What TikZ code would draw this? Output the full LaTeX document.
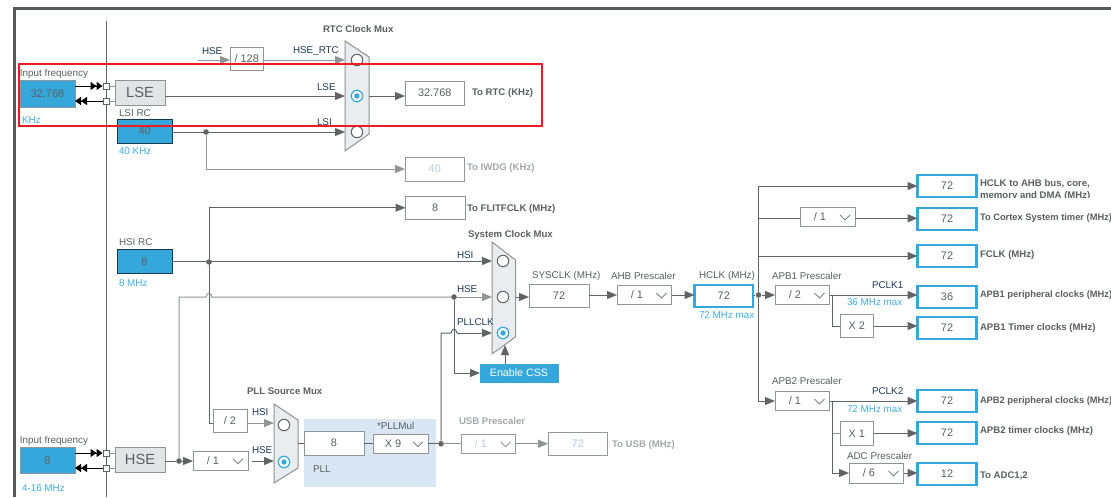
\documentclass[tikz,border=0pt]{standalone}
\usepackage{fontspec}
\setmainfont{Liberation Sans}
\usetikzlibrary{arrows.meta}
\definecolor{ln}{HTML}{5F6466}
\definecolor{lnlight}{HTML}{8F9496}
\definecolor{txt}{HTML}{5A5F62}
\definecolor{bdr}{HTML}{8F9496}
\definecolor{bluef}{HTML}{36A7DB}
\definecolor{bluet}{HTML}{45ADE2}
\definecolor{muxf}{HTML}{E9EDF0}
\definecolor{greyf}{HTML}{E2E4E6}
\definecolor{pllf}{HTML}{D9E7F5}
\definecolor{dim}{HTML}{A3A8AB}
\definecolor{dimv}{HTML}{B4CBE4}
\definecolor{navy}{HTML}{1F3A5A}
\definecolor{redb}{HTML}{ED1C24}
\tikzset{
  box/.style={draw=bdr,fill=white,line width=.75pt,inner sep=0pt,outer sep=0pt,text=txt,font=\fontsize{8.2pt}{10pt}\selectfont},
  dimbox/.style={box,draw=dim!90!black,text=dimv},
  outbox/.style={box,draw=bluef,line width=1.7pt},
  hclkbox/.style={outbox},
  src/.style={box,draw=bdr,fill=bluef},
  rc/.style={box,draw=black!65!bluef,fill=bluef},
  xtal/.style={box,fill=greyf,font=\fontsize{11pt}{12pt}\selectfont},
  lab/.style={inner sep=0pt,outer sep=0pt,anchor=west,yshift=-.75pt,text=txt,font=\fontsize{7.4pt}{9pt}\selectfont},
  bold/.style={lab,font=\fontsize{7.2pt}{9pt}\bfseries\selectfont},
  boldn/.style={lab,font=\fontsize{7pt}{9pt}\bfseries\selectfont},
  dimlab/.style={bold,text=dim},
  sig/.style={lab,text=navy},
  info/.style={lab,text=bluet},
  wire/.style={draw=ln,line width=.75pt},
  arr/.style={wire,-{Triangle[length=7.5pt,width=6pt]}},
  dimarr/.style={arr,draw=lnlight},
  blk/.style={draw=black,line width=.75pt,-{Triangle[length=4.5pt,width=6pt]Triangle[length=4.5pt,width=6pt]}},
  dot/.style={circle,fill=ln,inner sep=0pt,minimum size=4.2pt},
  port/.style={draw=ln,fill=white,line width=.6pt,inner sep=0pt,minimum size=4.6pt},
  mux/.style={draw=bdr,fill=muxf,line width=.75pt},
  radio/.style={circle,draw=ln,fill=white,line width=.75pt,inner sep=0pt,minimum size=8.6pt},
  radiosel/.style={radio,draw=bluef,line width=.9pt},
  seldot/.style={circle,fill=bluef,inner sep=0pt,minimum size=4pt},
  chev/.style={draw=ln!80,line width=.6pt}
}
\newcommand{\mkbox}[7][]{%
  \pgfmathsetmacro{\cxx}{(#3+#5)/2}\pgfmathsetmacro{\cyy}{(#4+#6)/2}%
  \pgfmathsetmacro{\bww}{(#5-#3)*.75}\pgfmathsetmacro{\bhh}{(#6-#4)*.75}%
  \node[box,#1,minimum width=\bww pt,minimum height=\bhh pt] (#2) at (\cxx,\cyy) {#7};}
\newcommand{\mkdrop}[7][]{%
  \mkbox[#1]{#2}{#3}{#4}{#5}{#6}{}%
  \pgfmathsetmacro{\txx}{#3+20}\pgfmathsetmacro{\cyy}{(#4+#6)/2}%
  \pgfmathsetmacro{\cha}{#5-15}\pgfmathsetmacro{\chb}{#5-10}\pgfmathsetmacro{\chc}{#5-5}%
  \pgfmathsetmacro{\chy}{\cyy-2}\pgfmathsetmacro{\chz}{\cyy+3}%
  \node[box,#1,draw=none,fill=none] (#2-t) at (\txx,\cyy) {#7};%
  \draw[chev,#1,fill=none] (\cha,\chy) -- (\chb,\chz) -- (\chc,\chy);}
\newcommand{\lbl}[5][lab]{\node[#1] (#2) at (#3,#4) {#5};}
\newcommand{\radio}[5][radio]{\node[#1] (#2) at (#3,#4) {};}
\begin{document}
\begin{tikzpicture}[x=.75pt,y=-.75pt]
\useasboundingbox (0,0) rectangle (1111,497);
\fill[white] (0,0) rectangle (1111,497);
% frame and rail
\coordinate (fa) at (14.7,497); \coordinate (fb) at (14.7,8.7); \coordinate (fc) at (1111,8.7);
\draw[draw=ln!90!black,line width=2pt] (fa) -- (fb) -- (fc);
\coordinate (ra) at (106,21); \coordinate (rb) at (106,497);
\draw[draw=ln,line width=.75pt] (ra) -- (rb);
% PLL background
\fill[pllf] (304,419) rectangle (435.5,487);
% muxes
\draw[mux] (345,41) -- (369,57) -- (369,134) -- (345,151) -- cycle;
\draw[mux] (492,242) -- (515.5,260) -- (515.5,337) -- (492,354) -- cycle;
\draw[mux] (274,404) -- (298,420) -- (298,468) -- (274,483) -- cycle;
\coordinate (rtcL) at (345,96); \coordinate (rtcR) at (369,96);
\coordinate (sysL) at (492,297); \coordinate (sysR) at (515.5,297); \coordinate (sysB) at (505,345);
\coordinate (pllL) at (274,440); \coordinate (pllR) at (298,443);
\radio{r1}{357}{60}{} \radio[radiosel]{r2}{357}{96}{} \node[seldot] (r2d) at (357,96) {}; \radio{r3}{357}{132}{}
\radio{s1}{503}{261}{} \radio{s2}{503}{297}{} \radio[radiosel]{s3}{503}{333}{} \node[seldot] (s3d) at (503,333) {};
\radio{p1}{284}{425}{} \radio[radiosel]{p2}{284}{462}{} \node[seldot] (p2d) at (284,462) {};
% sources
\mkbox[src]{lsein}{20}{80}{75}{107}{32.768}
\mkbox[xtal]{lse}{115}{80}{165}{105}{LSE}
\mkbox[rc]{lsi}{117.5}{119}{172}{143}{40}
\mkbox[rc]{hsi}{117}{249.5}{172}{273}{8}
\mkbox[src]{hsein}{20}{447}{75}{473.5}{8}
\mkbox[xtal]{hse}{115}{447}{165}{472}{HSE}
\node[port] (pa) at (106,86) {}; \node[port] (pb) at (106,101) {};
\node[port] (pc) at (106,453) {}; \node[port] (pd) at (106,468) {};
% boxes
\mkbox{d128}{230}{47}{263.5}{70}{/ 128}
\mkbox{rtc}{405}{81}{464.5}{105}{32.768}
\mkbox[dimbox]{iwdg}{405}{157}{464.5}{181}{40}
\mkbox{flit}{405.5}{196}{465}{219.5}{8}
\mkbox{d2}{213}{409}{247}{432}{/ 2}
\mkdrop{d1}{193}{451.5}{248}{470}{/ 1}
\mkbox{pll}{304}{431}{364}{455}{8}
\mkdrop{mul}{373}{434.5}{428}{453}{X 9}
\mkdrop[dimbox]{usbp}{461}{434.5}{515.5}{453}{/ 1}
\mkbox[dimbox]{usb}{548}{432}{607.5}{455}{72}
\mkbox{sys}{529}{284.5}{589}{307.5}{72}
\mkdrop{ahb}{617}{285.5}{671.5}{304.5}{/ 1}
\mkbox[hclkbox]{hclk}{694.5}{285}{753}{307}{72}
\mkdrop{apb1}{775}{285.5}{829.5}{304.5}{/ 2}
\mkdrop{apb2}{775}{391.5}{829.5}{410.5}{/ 1}
\mkdrop{cort}{800}{207.5}{855}{226.5}{/ 1}
\mkbox{x2}{840}{314.5}{873.5}{337.5}{X 2}
\mkbox{x1}{840}{421.5}{873.5}{445}{X 1}
\mkdrop{adc}{849}{463}{903.5}{483}{/ 6}
\mkbox[outbox]{o1}{917.5}{175}{976.5}{197}{72}
\mkbox[outbox]{o2}{917.5}{208}{976.5}{230}{72}
\mkbox[outbox]{o3}{917.5}{245}{976.5}{267}{72}
\mkbox[outbox]{o4}{917.5}{286}{976.5}{308}{36}
\mkbox[outbox]{o5}{917.5}{317}{976.5}{339}{72}
\mkbox[outbox]{o6}{917.5}{390}{976.5}{412}{72}
\mkbox[outbox]{o7}{917.5}{422}{976.5}{444}{72}
\mkbox[outbox]{o8}{917.5}{463}{976.5}{485}{12}
\mkbox[fill=bluef,draw=bluef,text=white]{css}{480}{364}{558}{382}{\fontsize{8pt}{9pt}\selectfont Enable CSS}
% input arrows
\draw[blk] (lsein.east |- pa) -- (pa);
\draw[blk] (pb) -- (lsein.east |- pb);
\draw[blk] (hsein.east |- pc) -- (pc);
\draw[blk] (pd) -- (hsein.east |- pd);
\draw[wire,draw=lnlight] (pa) -- (lse.west |- pa);
\draw[wire,draw=lnlight] (pb) -- (lse.west |- pb);
\draw[wire,draw=lnlight] (pc) -- (hse.west |- pc);
\draw[wire,draw=lnlight] (pd) -- (hse.west |- pd);
% RTC
\coordinate (hsefree) at (198,60);
\draw[dimarr] (hsefree) -- (d128.west |- hsefree);
\draw[dimarr] (d128.east |- r1) -- (rtcL |- r1);
\draw[arr] (lse.east |- r2) -- (rtcL |- r2);
\draw[arr] (lsi.east |- r3) -- (rtcL |- r3);
\draw[arr] (rtcR) -- (rtc.west |- rtcR);
\node[dot] (lsidot) at (206,132) {};
\draw[dimarr] (lsidot) |- (iwdg.west);
% HSI / HSE trees
\node[dot] (hsidot) at (209,262) {};
\draw[arr] (hsi.east |- s1) -- (sysL |- s1);
\draw[arr] (hsidot) |- (flit.west);
\coordinate (tod2) at (213,423);
\draw[wire] (hsidot) |- (tod2);
\coordinate (d2out) at (247,423);
\draw[dimarr] (d2out) -- (pllL |- d2out);
\node[dot] (hsedot) at (179,461) {};
\node[dot] (hsedot2) at (454,297) {};
\draw[wire] (hse.east |- hsedot) -- (hsedot);
\draw[arr] (hsedot) -- (d1.west |- hsedot);
\coordinate (jump1) at (206,297); \coordinate (jump2) at (212,297);
\draw[wire,draw=lnlight] (hsedot) |- (jump1) .. controls (207,292) and (211,292) .. (jump2) -- (hsedot2);
\draw[dimarr] (hsedot2) -- (sysL |- s2);
\draw[arr] (hsedot2) |- (css.west);
\coordinate (d1out) at (252,461);
\draw[arr] (d1out) -- (pllL |- d1out);
\draw[wire] (pllR) -- (pll.west |- pllR);
\draw[wire] (pll.east |- mul.west) -- (mul.west);
\node[dot] (plldot) at (441,443.75) {};
\draw[wire] (mul.east) -- (plldot);
\coordinate (jump3) at (451,333); \coordinate (jump4) at (457,333);
\draw[wire] (plldot) |- (jump3) .. controls (452,328) and (456,328) .. (jump4);
\draw[arr] (jump4) -- (sysL |- s3);
\draw[wire,draw=lnlight] (plldot) -- (usbp.west);
\draw[dimarr] (usbp.east) -- (usb.west |- usbp.east);
\draw[arr] (css.north -| sysB) -- (sysB);
% main chain
\draw[arr] (sysR) -- (sys.west |- sysR);
\draw[arr] (sys.east |- ahb.west) -- (ahb.west);
\draw[arr] (ahb.east) -- (hclk.west |- ahb.east);
\node[dot] (hdot) at (758.5,295) {};
\draw[wire] (hclk.east |- hdot) -- (hdot);
\draw[arr] (hdot) -- (apb1.west);
\coordinate (cy) at (800,218.3);
\draw[wire] (hdot) |- (cy);
\draw[arr] (hdot) |- (o1.west);
\draw[arr] (hdot) |- (o3.west);
\draw[arr] (hdot) |- (apb2.west);
\draw[arr] (cort.east |- cy) -- (o2.west |- cy);
\coordinate (j1) at (832,295.5);
\coordinate (j2) at (832,400.5);
\draw[arr] (apb1.east) -- (o4.west |- apb1.east);
\draw[wire] (j1) |- (x2.west);
\draw[arr] (x2.east) -- (o5.west |- x2.east);
\draw[arr] (apb2.east) -- (o6.west |- apb2.east);
\draw[wire,draw=lnlight] (j2) |- (x1.west);
\draw[arr] (x1.east) -- (o7.west |- x1.east);
\draw[arr] (j2) |- (adc.west);
\draw[arr] (adc.east) -- (o8.west |- adc.east);
% labels
\lbl{tif1}{20}{73}{Input frequency}
\lbl[info]{tkhz}{22}{119}{KHz}
\lbl{tlsi}{119}{112}{LSI RC}
\lbl[info]{t40}{119}{150}{40 KHz}
\lbl[sig]{th1}{202}{50.5}{HSE}
\lbl[sig]{th2}{293}{50.5}{HSE\_RTC}
\lbl[sig]{tlse}{317}{86.5}{LSE}
\lbl[sig]{tlsisig}{317}{121.5}{LSI}
\lbl[bold]{trtcm}{323}{28}{RTC Clock Mux}
\lbl[bold]{trtc}{472}{92}{To RTC (KHz)}
\lbl[dimlab]{tiw}{467}{167.5}{To IWDG (KHz)}
\lbl[bold]{tfl}{467}{208.5}{To FLITFCLK (MHz)}
\lbl{thsi}{119}{241.5}{HSI RC}
\lbl[info]{t8}{119}{282}{8 MHz}
\lbl{tif2}{20}{440}{Input frequency}
\lbl[info]{t416}{22}{487}{4-16 MHz}
\lbl[bold]{tpsm}{247}{390}{PLL Source Mux}
\lbl[sig]{ths}{252}{411}{HSI}
\lbl[sig]{the}{252}{449.5}{HSE}
\lbl[bold]{tscm}{468}{234.5}{System Clock Mux}
\lbl[sig]{ts1}{457}{254.5}{HSI}
\lbl[sig]{ts2}{457}{288.5}{HSE}
\lbl[sig]{ts3}{457}{321.5}{PLLCLK}
\lbl{tmul}{377}{424.5}{*PLLMul}
\lbl{tpll}{313}{468}{PLL}
\lbl[dimlab]{tusbp}{459}{420}{USB Prescaler}
\lbl[dimlab]{tusb}{612}{444.5}{To USB (MHz)}
\lbl{tsys}{532}{274.5}{SYSCLK (MHz)}
\lbl{tahb}{611}{274.5}{AHB Prescaler}
\lbl{thc}{699}{274.5}{HCLK (MHz)}
\lbl[info]{thm}{699}{314.5}{72 MHz max}
\lbl{tap1}{772}{274.5}{APB1 Prescaler}
\lbl{tap2}{772}{379.5}{APB2 Prescaler}
\lbl[sig]{tpc1}{872}{284.5}{PCLK1}
\lbl[info]{tm36}{847}{301.5}{36 MHz max}
\lbl[sig]{tpc2}{872}{390.5}{PCLK2}
\lbl[info]{tm72}{847}{408.5}{72 MHz max}
\lbl{tadc}{847}{454.5}{ADC Prescaler}
\lbl[bold]{to1}{980}{182.5}{HCLK to AHB bus, core,}
\begin{scope}
\clip (975,190) rectangle (1111,197.5);
\lbl[bold]{to1b}{980}{195.5}{memory and DMA (MHz)}
\end{scope}
\lbl[boldn]{to2}{980}{217.5}{To Cortex System timer (MHz)}
\lbl[bold]{to3}{980}{254.5}{FCLK (MHz)}
\lbl[boldn]{to4}{980}{294.5}{APB1 peripheral clocks (MHz)}
\lbl[bold]{to5}{980}{327}{APB1 Timer clocks (MHz)}
\lbl[boldn]{to6}{980}{400}{APB2 peripheral clocks (MHz)}
\lbl[bold]{to7}{980}{430.5}{APB2 timer clocks (MHz)}
\lbl[bold]{to8}{980}{475}{To ADC1,2}
% highlight
\mkbox[draw=redb,fill=none,line width=1.5pt]{hl}{18.5}{64}{541.5}{126}{}
\end{tikzpicture}
\end{document}
